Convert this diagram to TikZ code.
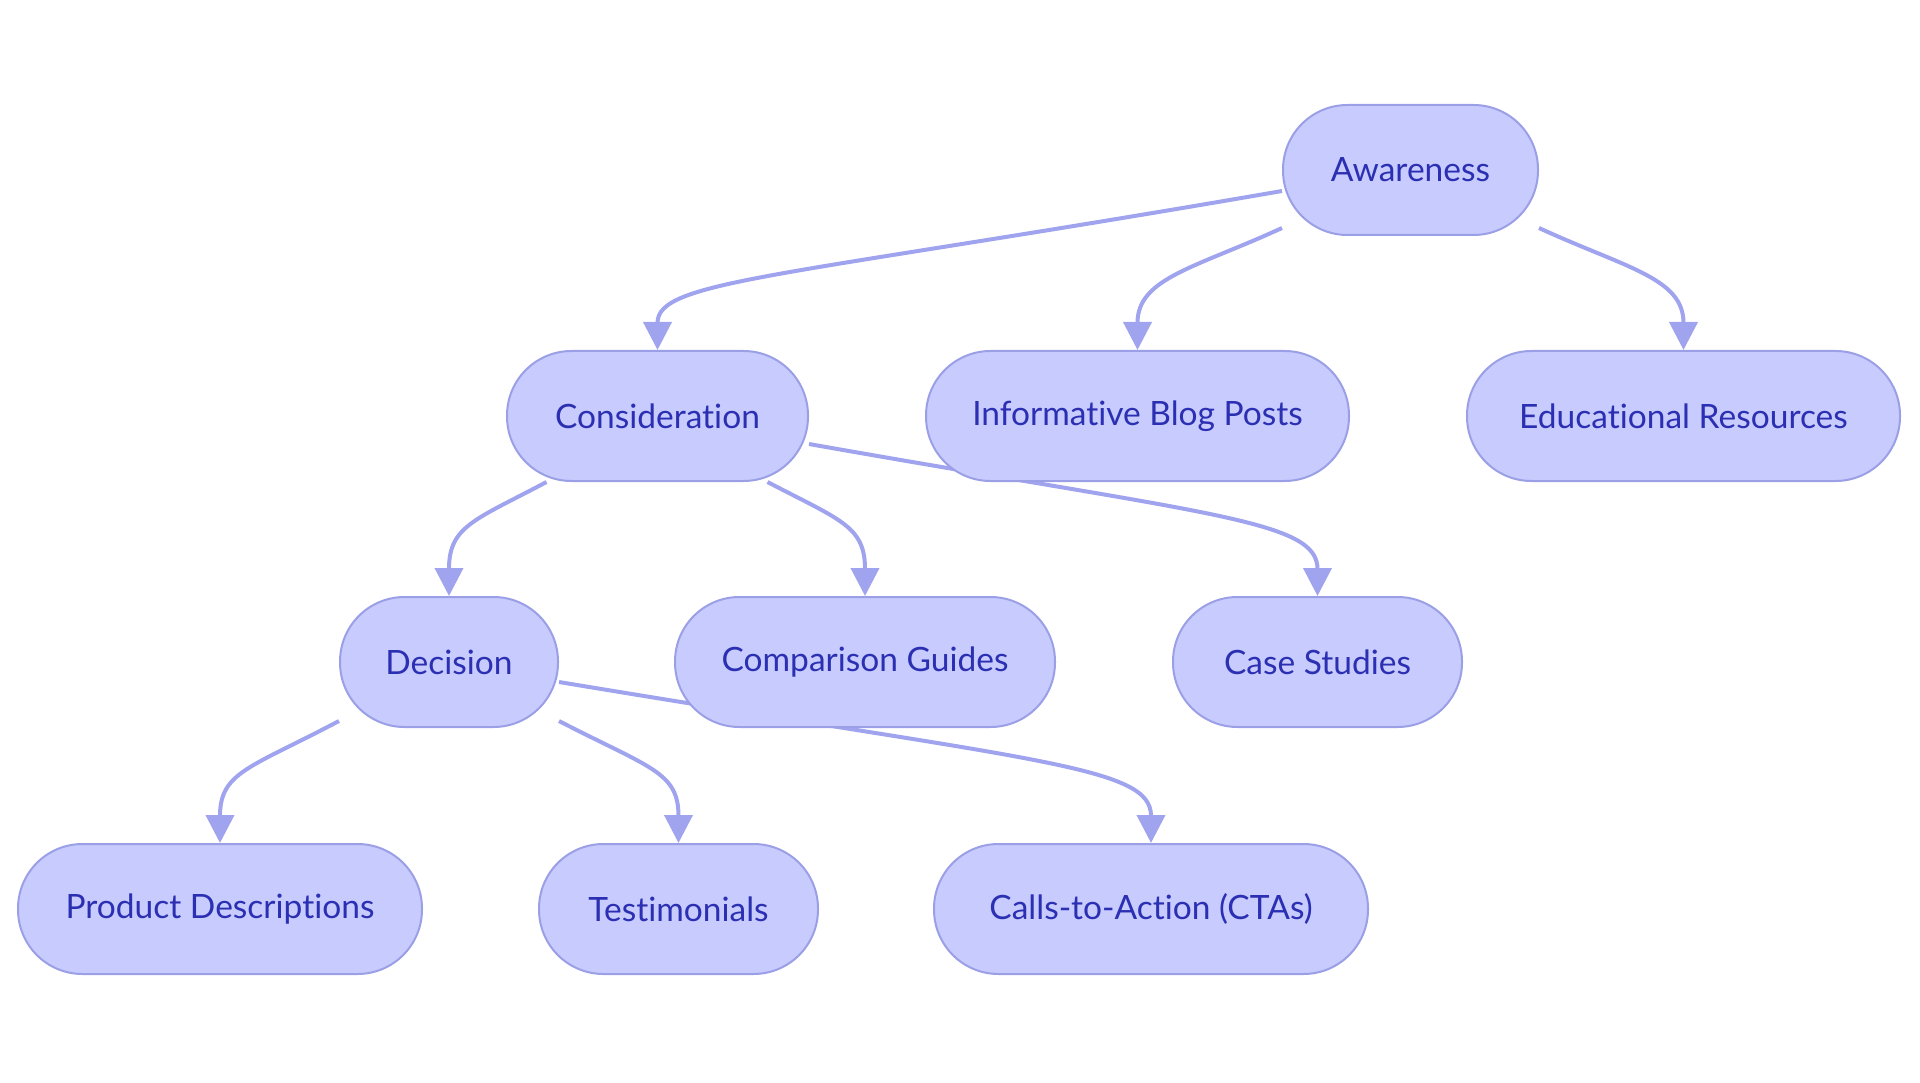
\documentclass[tikz,border=0pt]{standalone}
\usepackage{fontspec}
\setmainfont{Lato}[Ligatures={NoCommon}]
\usetikzlibrary{arrows.meta,backgrounds}
\definecolor{nodefill}{HTML}{C8CBFE}
\definecolor{nodeline}{HTML}{9A9FE6}
\definecolor{nodetext}{HTML}{2B2FB2}
\definecolor{edgecol}{HTML}{A0A4EE}
\tikzset{
  stage/.style={draw=nodeline, fill=nodefill, line width=2pt, rounded corners=64.5pt,
    minimum height=130pt, inner sep=0pt, text=nodetext, font=\fontsize{33.5}{40}\selectfont},
  link/.style={draw=edgecol, line width=4pt, -{Triangle[length=28pt,width=28pt]}}
}
\begin{document}
\begin{tikzpicture}[x=1pt,y=-1pt]
\useasboundingbox (0,0) rectangle (1920,1083);
\node[stage, minimum width=255pt] (aw) at (1410.5,170) {Awareness};
\node[stage, minimum width=301pt] (co) at (657.5,416) {Consideration};
\node[stage, minimum width=423pt] (bl) at (1137.5,416) {Informative Blog Posts};
\node[stage, minimum width=433pt] (ed) at (1683.5,416) {Educational Resources};
\node[stage, minimum width=218pt] (de) at (449,662) {Decision};
\node[stage, minimum width=380pt] (cg) at (865,662) {Comparison Guides};
\node[stage, minimum width=289pt] (cs) at (1317.5,662) {Case Studies};
\node[stage, minimum width=404pt] (pd) at (220,909) {Product Descriptions};
\node[stage, minimum width=279pt] (te) at (678.5,909) {Testimonials};
\node[stage, minimum width=434pt] (ct) at (1151,909) {Calls-to-Action (CTAs)};
\begin{scope}[on background layer]
\draw[link] ([yshift=-21pt]aw.west) .. controls (780,278) and (657.5,280) .. (co.north);
\draw[link] ([yshift=-58pt]aw.west) .. controls (1195,268) and (1137.5,278) .. (bl.north);
\draw[link] ([yshift=-58pt]aw.east) .. controls (1626,268) and (1683.5,278) .. (ed.north);
\draw[link] ([xshift=-111pt]co.south) .. controls (475,520) and (449,526) .. (de.north);
\draw[link] ([xshift=110pt]co.south) .. controls (840,520) and (865,526) .. (cg.north);
\draw[link] ([yshift=-28pt]co.east) .. controls (1210,515) and (1317.5,520) .. (cs.north);
\draw[link] ([yshift=-59pt]de.west) .. controls (250,768) and (220,772) .. (pd.north);
\draw[link] ([yshift=-59pt]de.east) .. controls (650,768) and (678.5,772) .. (te.north);
\draw[link] ([yshift=-20pt]de.east) .. controls (1040,762) and (1151,766) .. (ct.north);
\end{scope}
\end{tikzpicture}
\end{document}
